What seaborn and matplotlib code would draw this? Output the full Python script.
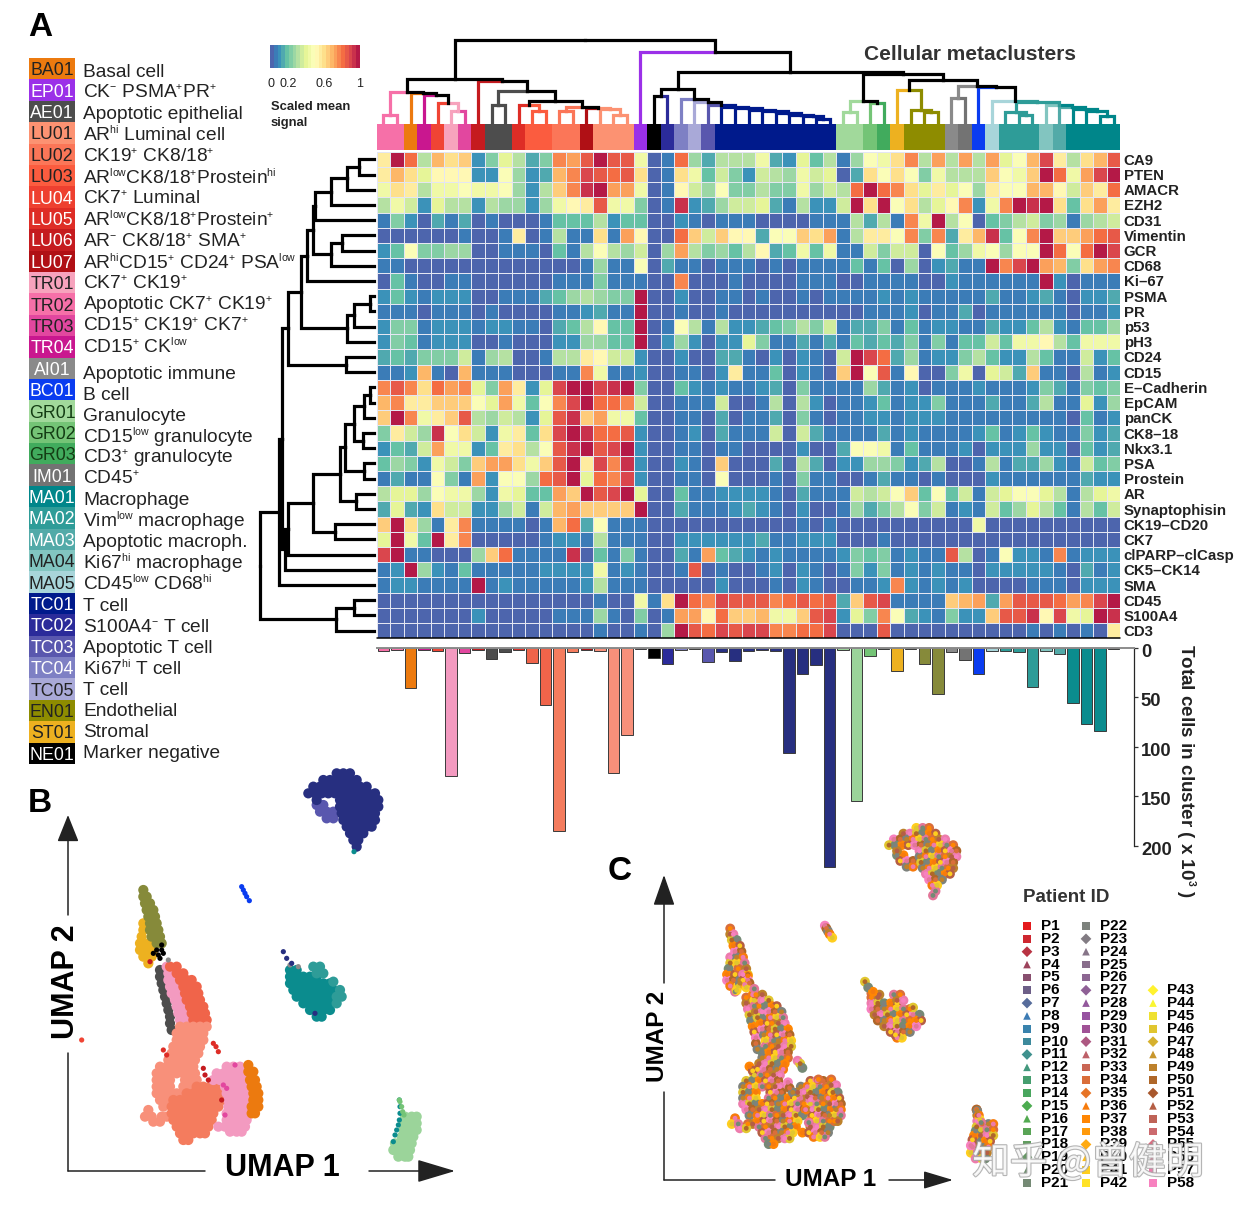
import numpy as np
import pandas as pd
import matplotlib
matplotlib.use("Agg")
import matplotlib.pyplot as plt
import matplotlib.patheffects as pe
import matplotlib._mathtext as mathtext_internal
from matplotlib.colors import ListedColormap
from matplotlib.transforms import ScaledTranslation
import seaborn as sns

W, H = 1234, 1212

# scaled mean signal per marker (x100), one value per metacluster column
ca9 = [58,100,82,33,68,62,66,10,24,38,32,14,24,78,74,84,100,84,86,42,2,8,82,25,15,30,30,33,44,14,10,38,20,33,6,25,47,42,62,76,33,72,32,72,32,72,40,48,70,90,56,32,62,70,84]
pten = [58,68,60,40,52,50,50,9,9,48,28,9,13,70,78,88,87,80,87,62,2,8,62,42,20,36,24,12,34,32,25,44,35,40,4,14,60,46,62,47,23,44,33,33,30,66,47,45,65,100,82,44,74,90,100]
amacr = [44,62,56,33,45,44,47,44,44,47,25,11,30,64,75,92,100,72,72,42,2,8,50,35,28,46,22,24,30,24,22,44,28,36,32,83,96,83,79,62,40,55,40,47,29,55,49,46,68,70,50,34,66,58,82]
ezh2 = [30,42,36,11,40,33,33,9,33,25,28,9,27,43,50,56,84,44,42,22,2,7,94,11,15,26,34,36,40,16,5,32,10,11,35,98,62,100,48,62,33,38,54,76,12,44,78,98,94,98,62,18,62,72,57]
cd31 = [5,24,10,3,15,8,13,3,5,4,4,4,7,18,20,20,31,12,17,20,3,3,11,6,3,8,5,5,4,4,3,1,6,5,6,30,15,32,8,77,44,100,33,47,4,18,24,31,35,24,25,7,28,32,37]
vimentin = [1,2,4,3,3,4,5,4,4,8,57,2,5,31,8,8,62,5,72,50,2,3,82,65,36,64,50,54,13,46,46,64,60,74,6,32,58,56,49,76,24,78,15,56,68,92,18,47,76,100,66,64,72,82,85]
gcr = [12,20,47,22,24,25,27,3,4,7,5,5,2,18,8,30,48,33,25,36,2,26,74,33,22,26,17,30,54,15,19,44,20,44,6,8,37,22,36,36,4,47,20,27,42,49,26,48,48,100,82,46,80,100,88]
cd68 = [5,5,3,4,4,3,4,3,4,3,4,2,2,4,3,5,26,5,6,46,2,14,6,5,2,7,6,6,3,5,1,7,5,5,6,18,5,19,4,28,3,10,15,8,6,100,79,88,100,72,70,24,60,72,76]
ki67 = [4,19,7,3,3,7,7,1,2,4,4,2,2,5,5,5,24,5,5,5,2,2,78,2,4,2,6,4,3,3,1,5,5,5,3,4,5,7,6,6,3,3,12,7,6,6,6,6,6,100,12,3,6,6,6]
psma = [9,17,10,6,10,10,9,3,4,8,8,8,14,17,28,30,28,22,24,100,2,3,9,4,3,7,5,4,5,3,3,5,3,5,5,8,8,10,8,12,5,6,8,6,6,13,8,8,12,14,7,3,9,9,13]
pr = [7,8,8,4,5,6,5,2,5,4,4,2,3,7,8,10,16,7,8,100,2,2,8,4,3,5,4,4,4,4,2,2,4,3,3,4,8,8,8,9,3,6,8,14,2,7,7,7,7,7,7,3,8,8,9]
p53 = [11,24,24,6,12,12,11,6,9,11,5,5,4,15,18,32,50,18,20,100,3,5,46,33,7,30,10,9,13,19,21,32,23,34,6,14,15,23,8,20,5,10,9,8,7,13,12,9,18,33,12,8,19,17,25]
ph3 = [12,22,20,5,11,11,10,2,2,6,4,4,3,10,10,26,26,17,18,100,3,11,27,10,3,10,10,38,22,5,6,15,6,13,8,17,14,17,15,24,8,22,7,20,19,36,20,45,43,50,32,18,43,44,43]
cd24 = [16,17,13,24,24,22,35,8,28,30,4,3,6,30,30,55,53,35,35,12,2,3,10,4,4,13,15,5,3,9,2,12,5,4,35,100,90,80,13,29,5,9,11,24,33,18,12,9,32,18,8,6,34,11,20]
cd15 = [5,5,10,68,5,4,70,5,6,6,4,4,4,5,6,76,45,5,5,11,3,3,5,5,3,11,56,6,7,17,1,11,6,2,63,100,49,85,5,53,3,3,22,42,3,38,36,16,64,6,6,3,30,6,9]
ecad = [78,85,77,62,82,71,76,41,22,74,57,9,38,88,98,98,90,93,100,22,3,3,18,9,5,10,7,6,9,13,3,23,7,8,5,5,25,15,6,9,3,8,6,7,11,6,7,8,10,22,13,5,24,17,23]
epcam = [70,76,56,58,66,66,66,49,41,74,44,20,47,76,88,100,83,80,78,36,3,3,7,8,5,34,3,4,5,30,2,33,12,2,7,5,9,17,7,10,9,21,8,8,8,14,7,8,15,33,7,7,38,9,28]
panck = [64,100,76,44,56,66,86,33,27,34,32,9,38,85,93,66,74,44,44,18,3,3,6,6,4,14,4,5,5,15,1,21,6,1,7,8,9,12,8,11,9,9,8,8,8,7,7,7,8,8,8,4,20,6,11]
ck818 = [21,57,34,27,92,49,61,37,10,44,58,20,62,91,100,94,83,82,87,12,3,3,6,12,3,14,5,5,5,36,1,37,14,5,6,5,6,16,8,9,8,7,7,8,9,18,7,9,19,10,8,5,22,9,13]
nkx31 = [12,17,16,35,72,42,42,11,17,56,62,30,49,84,92,100,86,90,100,10,3,3,7,6,2,7,7,3,3,4,1,9,3,2,15,49,48,45,5,20,6,8,8,9,3,11,11,11,26,11,10,3,20,10,14]
psa = [17,28,24,11,43,34,24,66,73,73,62,42,66,84,100,57,88,79,92,10,3,3,9,5,2,66,1,2,1,14,0,33,15,3,10,9,26,25,24,9,15,30,2,3,6,30,8,13,15,26,10,6,36,17,23]
prostein = [8,16,6,6,46,22,6,74,12,46,46,26,81,84,100,40,81,76,88,10,3,3,8,5,2,47,3,3,3,6,1,22,5,5,3,3,5,15,5,6,3,5,3,3,4,9,7,8,7,7,8,7,15,9,10]
ar = [30,41,40,27,49,42,42,27,12,43,38,19,19,72,66,100,84,90,100,40,3,3,17,6,6,9,10,10,9,8,3,15,6,6,7,37,32,36,46,63,19,49,17,34,5,36,39,48,48,40,32,7,30,39,43]
synaptophisin = [13,38,16,9,61,34,37,11,12,29,37,6,34,68,73,66,64,64,66,100,3,3,15,5,5,8,9,16,9,8,3,12,3,3,5,26,14,24,32,48,23,34,8,10,5,37,20,26,40,30,18,6,30,20,34]
ck19cd20 = [66,100,62,26,5,58,78,6,6,7,5,3,5,70,83,13,48,6,6,8,2,2,1,1,1,1,1,1,2,3,1,7,4,5,2,2,2,2,2,2,2,2,3,3,44,2,2,2,1,2,2,1,2,2,1]
ck7 = [38,96,42,17,98,57,77,4,4,4,4,3,5,10,10,7,32,7,8,8,3,3,11,11,11,11,10,10,15,8,8,12,9,9,2,2,2,5,2,2,3,2,2,2,2,2,2,2,2,2,2,2,2,2,2]
clparp = [90,98,6,5,3,3,2,28,64,81,5,6,6,5,92,3,20,5,24,7,3,3,14,7,72,18,16,9,8,9,8,8,8,8,10,21,17,24,6,12,6,5,84,31,4,7,47,9,12,6,77,6,10,9,9]
ck5ck14 = [7,9,98,25,10,8,20,5,5,5,5,7,9,9,10,12,44,8,9,8,3,3,5,87,3,5,4,4,6,11,2,12,7,2,7,22,12,21,5,9,8,12,6,8,3,9,9,10,9,12,6,3,15,8,10]
sma = [8,9,9,5,7,5,7,98,6,10,5,7,7,7,8,10,33,7,7,5,3,3,4,3,3,11,2,3,3,5,2,9,6,4,1,6,7,11,78,9,8,9,8,12,3,3,2,3,6,7,5,3,9,9,10]
cd45 = [1,1,1,1,1,1,1,3,3,1,1,3,3,3,1,3,6,4,4,44,5,62,98,83,79,88,86,87,87,78,80,84,83,86,15,65,87,88,5,8,6,5,63,70,72,15,73,87,85,87,80,71,77,90,98]
s100a4 = [2,3,3,2,3,3,3,9,1,1,1,3,3,5,5,6,26,5,4,22,2,6,71,74,51,81,66,66,69,45,44,65,84,88,9,39,21,75,48,13,12,5,22,11,10,66,87,84,92,50,88,43,38,98,92]
cd3 = [1,2,2,1,1,2,2,2,2,1,1,2,2,1,1,2,8,2,2,8,3,27,100,84,81,89,87,89,90,78,78,82,82,89,3,3,4,84,3,4,3,2,4,3,3,2,3,3,8,3,5,2,5,2,57]

marker_names = ["CA9", "PTEN", "AMACR", "EZH2", "CD31", "Vimentin", "GCR", "CD68", "Ki\u201367", "PSMA", "PR", "p53", "pH3",
                "CD24", "CD15", "E\u2013Cadherin", "EpCAM", "panCK", "CK8\u201318", "Nkx3.1", "PSA", "Prostein", "AR",
                "Synaptophisin", "CK19\u2013CD20", "CK7", "clPARP\u2013clCasp", "CK5\u2013CK14", "SMA", "CD45", "S100A4", "CD3"]
signal = [ca9, pten, amacr, ezh2, cd31, vimentin, gcr, cd68, ki67, psma, pr, p53, ph3, cd24, cd15, ecad, epcam, panck,
          ck818, nkx31, psa, prostein, ar, synaptophisin, ck19cd20, ck7, clparp, ck5ck14, sma, cd45, s100a4, cd3]

# which metacluster each heatmap column belongs to
column_clusters = ["TR02", "TR02", "BA01", "TR04", "LU04", "TR01", "TR03", "LU06", "AE01", "AE01", "LU05", "LU03", "LU03",
                   "LU02", "LU02", "LU07", "LU01", "LU01", "LU01", "EP01", "NE01", "TC02", "TC04", "TC05", "TC03",
                   "TC01", "TC01", "TC01", "TC01", "TC01", "TC01", "TC01", "TC01", "TC01", "GR01", "GR01", "GR02", "GR03",
                   "ST01", "EN01", "EN01", "EN01", "AI01", "IM01", "BC01", "MA05", "MA02", "MA02", "MA02", "MA04", "MA03",
                   "MA01", "MA01", "MA01", "MA01"]

# total cells in each column, x 10^3
total_cells = [4, 3, 41, 3, 3.5, 130, 6, 2.5, 12, 5, 3, 16, 58, 185, 5, 3, 3.5, 127, 88, 1.5, 11, 17, 3, 1.5, 15, 5, 14, 4,
               2.5, 4, 106, 27, 18, 221, 2.5, 155, 9, 1.5, 24, 2, 17, 47, 5, 13, 27, 3.5, 4, 5, 40, 4, 7, 56, 77, 84, 2]

legend_codes = ["BA01", "EP01", "AE01", "LU01", "LU02", "LU03", "LU04", "LU05", "LU06", "LU07", "TR01", "TR02", "TR03",
                "TR04", "AI01", "BC01", "GR01", "GR02", "GR03", "IM01", "MA01", "MA02", "MA03", "MA04", "MA05", "TC01",
                "TC02", "TC03", "TC04", "TC05", "EN01", "ST01", "NE01"]
legend_colours = ["#ec7a0f", "#9b30e8", "#4d4d4d", "#fc9272", "#fb7658", "#fb5c3f", "#ee4030", "#de2d26", "#c51b1f", "#b01015",
                  "#f7a3bd", "#f670a8", "#e2479f", "#c9178f", "#8a8a8a", "#0a3cf0", "#a1d99b", "#74c476", "#41ab5d", "#737373",
                  "#00868a", "#2e9c98", "#52aaa8", "#82c5c0", "#a8d5da", "#001a8c", "#2b2b9a", "#5957ae", "#7e80c4", "#a9a9d8",
                  "#8e8c00", "#edb120", "#000000"]
legend_text_colours = ["#222222", "white", "white", "#222222", "#222222", "#222222", "white", "white", "white", "white",
                       "#222222", "#222222", "#222222", "white", "white", "white", "#143d14", "#143d14", "#143d14", "white",
                       "white", "white", "white", "#222222", "#222222", "white", "white", "white", "white", "#222222",
                       "#222222", "#222222", "white"]
legend_labels = ["Basal cell", "CK$^{-}$ PSMA$^{+}$PR$^{+}$", "Apoptotic epithelial", "AR$^{hi}$ Luminal cell",
                 "CK19$^{+}$ CK8/18$^{+}$", "AR$^{low}$CK8/18$^{+}$Prostein$^{hi}$", "CK7$^{+}$ Luminal",
                 "AR$^{low}$CK8/18$^{+}$Prostein$^{+}$", "AR$^{-}$ CK8/18$^{+}$ SMA$^{+}$",
                 "AR$^{hi}$CD15$^{+}$ CD24$^{+}$ PSA$^{low}$", "CK7$^{+}$ CK19$^{+}$", "Apoptotic CK7$^{+}$ CK19$^{+}$",
                 "CD15$^{+}$ CK19$^{+}$ CK7$^{+}$", "CD15$^{+}$ CK$^{low}$", "Apoptotic immune", "B cell", "Granulocyte",
                 "CD15$^{low}$ granulocyte", "CD3$^{+}$ granulocyte", "CD45$^{+}$", "Macrophage", "Vim$^{low}$ macrophage",
                 "Apoptotic macroph.", "Ki67$^{hi}$ macrophage", "CD45$^{low}$ CD68$^{hi}$", "T cell", "S100A4$^{-}$ T cell",
                 "Apoptotic T cell", "Ki67$^{hi}$ T cell", "T cell", "Endothelial", "Stromal", "Marker negative"]
cluster_colours = dict(zip(legend_codes, legend_colours))
cluster_colours["LU04"] = "#f04434"
mark_colours = {**cluster_colours, "TC01": "#272f80", "LU01": "#f8907a", "LU02": "#f47c5e", "LU03": "#f0644a",
                "TR01": "#f39ac0", "EN01": "#868a3a", "MA01": "#0b8c8e", "GR01": "#9bd49a"}

# UMAP points per cluster as {umap2: [umap1, ...]}, drawn in this order
umap_big = {
    "AE01": {60: [30], 58: [30], 56: [30.5], 54: [31], 52: [31.5], 50: [32], 48: [32.5], 46: [33], 44: [33], 42: [33.5]},
    "TR01": {61: [32], 59: [32.5], 57: [32.5, 34], 55: [33, 35], 53: [33.5, 35.5], 51: [34.5, 36.5], 49: [35, 37],
             47: [35.5, 37.5], 45: [36, 38.5]},
    "LU03": {61: [33, 35], 59: [35, 37], 57: [36, 38, 39.5], 55: [37, 39, 41], 53: [37.5, 39.5, 41.5], 51: [38, 40, 42],
             49: [39, 41, 43], 47: [39.5, 41.5, 43.5], 45: [40, 42, 44]},
    "LU01": {43: [36, 38, 40, 42, 44], 41: [35, 37, 39, 41, 43], 39: [35, 37, 39, 41, 43], 37: [34, 36, 38, 40, 42],
             35: [33.5, 35.5, 37.5, 39.5, 41.5], 33: [32.5, 34.5, 36.5, 38.5, 40.5], 31: [30, 32, 34, 36, 38, 40],
             29: [29, 31, 33, 35, 37, 39, 40.5], 27: [29, 31, 33, 37.5, 39.5, 41], 25: [29, 31, 33, 37, 39, 41],
             23: [29, 31, 33, 35, 36.5], 21: [30, 32], 19: [31], 18: [26.5], 16: [25.5, 27.5, 30.5, 32], 14.5: [28, 30]},
    "LU02": {25: [41, 43, 45, 47], 23: [38, 40, 42, 44, 46, 48], 21: [34, 36, 38, 40, 42, 44, 46, 48, 49.5],
             19: [33.5, 35.5, 37.5, 39.5, 41.5, 43.5, 45.5, 47.5], 17: [33.5, 35.5, 37.5, 39.5, 41.5, 43.5, 46],
             15: [34, 36, 38, 40, 42, 44, 45.5], 13: [35, 37, 39, 41, 43, 44.5], 11: [36, 38, 40, 42, 43.5], 9: [37, 38.5]},
    "TR01b": {31: [50, 52, 54], 29: [47, 49, 51, 53, 55], 27: [46, 48, 50, 52, 54, 56], 25: [49.5, 51.5, 53.5, 55.5],
              23: [50, 52, 54, 56], 21: [50.5, 52.5, 54.5, 56.5], 19: [50.5, 52.5, 54.5, 56], 17: [50, 52, 54, 56],
              15: [50, 52, 54, 56], 13: [47.5, 49.5, 51.5, 53.5, 55.5], 11.5: [51, 53, 54.5]},
    "BA01": {31.5: [56.5], 29.5: [56.5, 58], 27: [57, 58.5], 25: [57.5, 59], 23: [58, 59.5], 21: [58, 59.5], 19: [57.5, 59.5],
             17: [57.5, 58.5]},
    "ST01": {74: [25], 72: [25], 70: [24.5], 68: [24, 26.5], 66: [24, 26, 28], 64: [25, 27.5], 62: [26.5]},
    "EN01": {84: [25], 82: [25, 26], 80: [25.5, 27], 78: [26, 28], 76: [26.5, 28.5], 74: [27, 29], 72: [27, 29.5],
             70: [27.5, 30], 68: [29, 30.5]},
    "TC03": {109.5: [77, 79], 107.5: [78, 80, 82], 105.5: [80, 82]},
    "TC01": {119: [83, 85, 87], 117: [79, 81, 83, 85, 87, 89], 115: [76, 78, 80, 82, 84, 86, 88, 90, 92],
             113: [74.5, 76.5, 78.5, 80.5, 82.5, 84.5, 86.5, 88.5, 90.5, 92.5, 94.5], 111: [77, 84, 86, 88, 90, 92, 94, 95.5],
             109: [84, 86, 88, 90, 92, 94, 95.5], 107: [84.5, 86.5, 88.5, 90.5, 92.5, 94.5], 105: [85, 87, 89, 91, 93, 94.5],
             103: [86, 88, 90, 92, 93.5], 101: [87, 89, 91], 99: [88, 89.5], 97: [89]},
    "MA01": {60: [69, 71], 58: [69, 71, 73, 75, 77], 56: [69, 71, 73, 75, 77, 79, 81], 54: [70, 72, 74, 76, 78, 80, 82],
             52: [71, 73, 75, 77, 79, 81], 50: [73, 75, 77, 79, 81], 48: [75, 77, 79, 81], 46: [77, 78.5]},
    "MA02": {61: [76, 78], 59: [77, 79], 56.5: [82], 54: [84], 52: [83, 84.5], 50: [83]},
    "GR01": {16: [103.5, 105.5, 107], 14: [103, 105, 107], 12: [103, 105, 107], 10: [102.5, 104.5, 106],
             8: [100.5, 102.5, 104.5, 105.5], 6: [100, 102, 104, 105], 4: [101.5, 103.5, 104.5]},
}
umap_small = {
    "NE01": {67.5: [30.5], 66: [29, 30.5], 65: [31, 28], 64.5: [29.5], 63.5: [30]},
    "AI01": {63: [32.5], 61.5: [69], 61: [71.5]},
    "LU05": {38: [46], 37: [46.8], 35.5: [47.5], 36: [31], 34.5: [32]},
    "LU06": {30.5: [43], 28.5: [43.5], 27: [44.5], 21: [48.5], 62.5: [27]},
    "TR03": {16.5: [49.5], 31.5: [52.5], 25.5: [49], 24.5: [50]},
    "TC01": {65.5: [67], 63.5: [68], 62: [69.5], 47: [76.5]},
    "BC01": {85: [54.5], 84: [55], 83: [55.5], 82: [56], 80.8: [56.8]},
    "MA01": {95.5: [88.2], 21: [101.8], 19: [102], 17: [102], 15: [101.8], 13.5: [101.5], 12: [101], 10.5: [100.5], 8.5: [100]},
    "GR02": {21: [101.8], 20.5: [102], 19: [102.5], 17.5: [102.8], 16.5: [103.2]},
    "LU04": {39: [6.5]},
}

patient_ids = [f"P{i}" for i in range(1, 59)]
speckle_patients = ["P34", "P49", "P57", "P46", "P21", "P37", "P52", "P58", "P50", "P22", "P36", "P41", "P56"]


def node(height, left, right, colour="black"):
    return {"h": height, "l": left, "r": right, "c": colour}


def draw_tree(ax, tree, leaf_colours, lw, vertical=True):
    def stem(pos, low, high, mid, colour):
        ps, hs = [pos, pos, mid], [low, high, high]
        xs, ys = (ps, hs) if vertical else (hs, ps)
        ax.plot(xs, ys, color=colour, lw=lw, clip_on=False, solid_capstyle="projecting", solid_joinstyle="miter")

    def walk(n):
        if isinstance(n, int):
            return n + 0.5, 0, leaf_colours[n]
        pl, hl, cl = walk(n["l"])
        pr_, hr, cr = walk(n["r"])
        mid = (pl + pr_) / 2
        stem(pl, hl, n["h"], mid, cl)
        stem(pr_, hr, n["h"], mid, cr)
        return mid, n["h"], n["c"]

    walk(tree)


C = cluster_colours
# column tree: merge heights are pixels above the colour strip in the reference
left_tree = node(43,
    node(30, node(7, 0, 1, C["TR02"]),
         node(29, 2, node(27, 3, node(19, 4, node(11, 5, 6, C["TR01"]))))),
    node(41, 7,
         node(31, node(17, 8, 9, C["AE01"]),
              node(21, node(17, 10, node(11, 11, 12, C["LU03"])),
                   node(15, node(11, 13, 14, C["LU02"]),
                        node(14, 15, node(13, 16, node(7, 17, 18, C["LU01"]), C["LU01"])))))))
navy = C["TC01"]
t_tree = node(33, node(26, 20, 21),
              node(23, 22, node(20, 23, node(17, 24,
                   node(15.5, 25, node(14, 26, node(12.5, 27, node(11, 28, node(9, 29, node(7.5, 30,
                        node(6, 31, node(3.3, 32, 33, navy), navy), navy), navy), navy), navy), navy), navy)))))
g_tree = node(21, node(10, 34, 35, C["GR01"]), node(19, 36, 37))
o_tree = node(32, 38, node(12, 39, node(10, 40, 41, C["EN01"]), C["EN01"]))
m_tree = node(21, 45, node(20,
              node(10, 46, node(7, 47, 48, C["MA02"]), C["MA02"]),
              node(17, 49, node(15, 50, node(13, 51, node(11, 52, node(6, 53, 54, C["MA01"]), C["MA01"]), C["MA01"]), C["MA01"]), C["MA02"]),
              C["MA02"]))
right_tree = node(50, t_tree,
                  node(48, g_tree, node(42, o_tree, node(36, node(24, 42, 43, "#8a8a8a"), node(35, 44, m_tree)))))
column_tree = node(82, left_tree, node(70, 19, right_tree))

# row tree: merge heights are pixels left of the heatmap in the reference
r_a = node(61, node(59, node(43, node(27, node(15, 0, 1), 2), 3), 4), node(43, node(32, 5, 6), 7))
r_top = node(86, node(73, node(67, r_a, 8), node(27, node(20, node(3.7, 9, 10), 11), 12)), node(28, 13, 14))
r_b = node(61, node(34, node(29, node(20, node(10, node(3.7, 15, 16), 17), node(11, 18, 19)), node(10, 20, 21)), node(18, 22, 23)),
           node(39, 24, 25))
row_tree = node(114, node(95, node(92, r_top, node(89, node(86, r_b, 26), 27)), 28), node(38, node(20, 29, 30), 31))

sns.set_theme(style="white")
plt.rcParams["font.family"] = ["Liberation Sans", "DejaVu Sans"]
plt.rcParams["mathtext.default"] = "regular"
# the reference sets its superscripts very small
mathtext_internal.SHRINK_FACTOR = 0.55

fig = plt.figure(figsize=(W / 100, H / 100), dpi=100)


def px_axes(x0, y0, x1, y1):
    return fig.add_axes([x0 / W, 1 - y1 / H, (x1 - x0) / W, (y1 - y0) / H])


assert all(len(r) == 55 for r in signal), [len(r) for r in signal]

# main heatmap
spectral = ListedColormap(sns.color_palette("Spectral_r", 24))
ax_heat = px_axes(376.7, 151.7, 1120.3, 638.3)
ax_cbar = px_axes(270, 45, 360, 68)
heat_df = pd.DataFrame(signal, index=marker_names)
sns.heatmap(heat_df, ax=ax_heat, cmap=spectral, vmin=0, vmax=100, linewidths=0.5, linecolor="#e4e6f2",
            xticklabels=False, yticklabels=True, cbar_ax=ax_cbar,
            cbar_kws={"orientation": "horizontal", "ticks": [1, 20, 60, 99]})
ax_heat.yaxis.tick_right()
ax_heat.tick_params(axis="y", length=0, pad=2.5, labelsize=10.8, labelrotation=0)
for t in ax_heat.get_yticklabels():
    t.set_fontweight("bold")
    t.set_color("#222222")
ax_heat.axhline(32, color="black", lw=1.1, clip_on=False)
ax_cbar.set_xticklabels(["0", "0.2", "0.6", "1"])
ax_cbar.tick_params(axis="x", length=0, pad=7, labelsize=9, colors="#222222")

# colour strip above the heatmap
ax_strip = px_axes(376.7, 124, 1120.3, 150)
strip_colours = [cluster_colours[c] for c in column_clusters]
sns.heatmap(np.arange(55).reshape(1, -1), ax=ax_strip, cmap=ListedColormap(strip_colours), cbar=False,
            xticklabels=False, yticklabels=False)

# dendrograms
ax_ctree = px_axes(376.7, 40, 1120.3, 122)
ax_ctree.set_xlim(0, 55)
ax_ctree.set_ylim(0, 82)
ax_ctree.axis("off")
draw_tree(ax_ctree, column_tree, strip_colours, lw=2.3)

ax_rtree = px_axes(260, 151.7, 373.7, 638.3)
ax_rtree.set_xlim(114, 0)
ax_rtree.set_ylim(32, 0)
ax_rtree.axis("off")
draw_tree(ax_rtree, row_tree, ["black"] * 32, lw=2.3, vertical=False)

# cell counts below the heatmap
ax_bar = px_axes(376.7, 647.5, 1134, 870.5)
bar_df = pd.DataFrame({"col": [str(i) for i in range(55)], "cells": total_cells})
sns.barplot(data=bar_df, x="col", y="cells", hue="col", saturation=1,
            palette=[mark_colours[c] for c in column_clusters], legend=False, dodge=False, width=0.85,
            edgecolor="#3a3a3a", linewidth=0.7, ax=ax_bar)
ax_bar.set_xlim(-0.5, -0.5 + (1134 - 376.7) / (743.6 / 55))
ax_bar.set_ylim(225, 0)
ax_bar.set_xlabel("")
ax_bar.set_ylabel("")
ax_bar.yaxis.tick_right()
ax_bar.set_yticks([0, 50, 100, 150, 200])
ax_bar.tick_params(axis="x", bottom=False, labelbottom=False)
ax_bar.tick_params(axis="y", right=True, length=3, width=0.9, color="#333333", pad=2, labelsize=13.2, labelcolor="#222222")
label_shift = ScaledTranslation(0, -2 / 72, fig.dpi_scale_trans)
for t in ax_bar.get_yticklabels():
    t.set_fontweight("bold")
    t.set_transform(t.get_transform() + label_shift)
for side in ["left", "bottom"]:
    ax_bar.spines[side].set_visible(False)
ax_bar.spines["top"].set_color("#8c8c8c")
ax_bar.spines["top"].set_linewidth(1.4)
ax_bar.spines["right"].set_bounds(0, 200)
ax_bar.spines["right"].set_linewidth(0.9)
ax_bar.patch.set_alpha(0)

# cluster key on the left
ax_key = px_axes(29, 58, 75, 764)
sns.heatmap(np.arange(33).reshape(-1, 1), ax=ax_key, cmap=ListedColormap(legend_colours), cbar=False,
            xticklabels=False, yticklabels=False)
for i, code in enumerate(legend_codes):
    ax_key.text(0.5, i + 0.5, code, ha="center", va="center_baseline", fontsize=12.8, color=legend_text_colours[i])


# UMAP panels
def umap_frame(groups):
    rows = []
    for name, table in groups.items():
        for y, xs in table.items():
            rows.extend((name[:4], x, y) for x in xs)
    return pd.DataFrame(rows, columns=["cluster", "umap1", "umap2"])


big_df = umap_frame(umap_big)
small_df = umap_frame(umap_small)

ax_b = px_axes(60, 770, 460, 1170)
for frame, size in [(big_df, 54), (small_df, 14)]:
    sns.scatterplot(data=frame, x="umap1", y="umap2", hue="cluster", palette=mark_colours, s=size, linewidth=0,
                    legend=False, clip_on=False, ax=ax_b)
ax_c = px_axes(650, 825, 1035, 1170)
all_df = pd.concat([big_df, small_df], ignore_index=True)
patient_palette = sns.blend_palette(["#e41a1c", "#377eb8", "#4daf4a", "#808080", "#984ea3", "#ff7f00", "#ffff33", "#a65628", "#f781bf"], 58)
patient_colours = dict(zip(patient_ids, patient_palette))
for size, step in [(50, 0), (12, 5)]:
    frame = all_df.assign(patient=[speckle_patients[(i + step) % 13] for i in range(len(all_df))])
    frame = frame[frame["umap1"] > 10]
    sns.scatterplot(data=frame, x="umap1", y="umap2", hue="patient", palette=patient_colours, s=size, linewidth=0,
                    legend=False, clip_on=False, ax=ax_c)
for ax in [ax_b, ax_c]:
    ax.set_xlim(0, 120)
    ax.set_ylim(0, 120)
    ax.axis("off")

# everything laid out in figure pixels goes on one transparent top layer
canvas = fig.add_axes([0, 0, 1, 1], zorder=10)
canvas.patch.set_alpha(0)

for i, label in enumerate(legend_labels):
    y = 77 + 21.2 * i if i < 14 else 379 + 21.05 * (i - 14)
    canvas.text(83, y, label, ha="left", va="baseline", fontsize=13.8, color="#222222")


def arrow_line(start, end, head=True, scale=24, width=0.32):
    style = f"-|>,head_length=0.8,head_width={width}" if head else "-"
    canvas.annotate("", xy=end, xytext=start,
                    arrowprops=dict(arrowstyle=style, color="#222222", lw=1.1, mutation_scale=scale, shrinkA=0, shrinkB=0))


arrow_line((68, 1171), (68, 1053), head=False)
arrow_line((68, 915), (68, 815), scale=21)
arrow_line((68, 1171), (205, 1171), head=False)
arrow_line((369, 1171), (455, 1171), scale=30, width=0.24)
arrow_line((664, 1180), (664, 1092), head=False)
arrow_line((664, 983), (664, 875), scale=24, width=0.28)
arrow_line((664, 1180), (775, 1180), head=False)
arrow_line((889, 1180), (953, 1180), scale=23, width=0.24)

panel_texts = [
    (40, 28, "A", 0, 24, "black"), (40, 804, "B", 0, 24, "black"), (620, 871, "C", 0, 24, "black"),
    (66, 982, "UMAP 2", 90, 22, "black"), (282, 1168, "UMAP 1", 0, 22, "black"),
    (657, 1036, "UMAP 2", 90, 17.5, "black"), (831, 1179, "UMAP 1", 0, 17.5, "black"),
    (970, 54, "Cellular metaclusters", 0, 15, "#333333"), (1066, 898, "Patient ID", 0, 13.5, "#333333"),
    (1186, 771, "Total cells in cluster ( x 10$^{3}$ )", -90, 13.6, "#222222"),
]
for x, y, s, rot, size, col in panel_texts:
    canvas.text(x, y, s, rotation=rot, fontsize=size, fontweight="bold", color=col, ha="center", va="center")
canvas.text(271, 107, "Scaled mean", fontsize=9.4, fontweight="bold", color="#222222", va="center")
canvas.text(271, 123, "signal", fontsize=9.4, fontweight="bold", color="#222222", va="center")

# patient legend
legend_columns = [patient_ids[:21], patient_ids[21:42], [None] * 5 + patient_ids[42:]]
marker_cycle = ["s", "s", "D", "^"]
key_rows = []
for col_x, names in zip([1027, 1086, 1153], legend_columns):
    for row, name in enumerate(names):
        if name is None:
            continue
        y = 926 + row * 12.85
        key_rows.append((name, col_x, y, marker_cycle[patient_ids.index(name) % 4]))
        canvas.text(col_x + 14, y, name, fontsize=11, fontweight="bold", color="black", va="center")
key_df = pd.DataFrame(key_rows, columns=["patient", "x", "y", "shape"])
sns.scatterplot(data=key_df, x="x", y="y", hue="patient", palette=patient_colours, style="shape",
                markers={"s": "s", "D": "D", "^": "^"}, s=30, linewidth=0, legend=False, ax=canvas)

canvas.text(1088, 1163, "\u77e5\u4e4e @\u66fe\u5065\u660e", fontsize=27, color="white", alpha=0.85, ha="center", va="center",
            family=["Noto Sans CJK SC", "DejaVu Sans"],
            path_effects=[pe.withStroke(linewidth=1.6, foreground="#a8a8a8")])

canvas.set_xlim(0, W)
canvas.set_ylim(H, 0)
canvas.axis("off")

fig.savefig("out.png", dpi=100)
